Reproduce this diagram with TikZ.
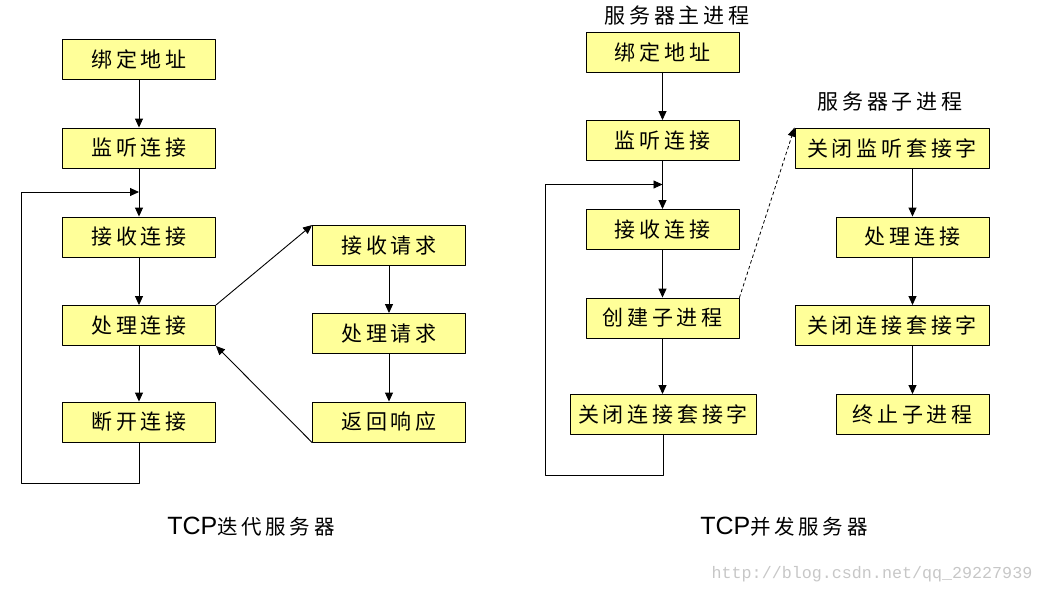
\documentclass[tikz,border=0pt]{standalone}
\usepackage{fontspec}
\setmainfont{Liberation Sans}
\newfontfamily\cjk[LetterSpace=18]{Noto Sans CJK SC}
\newfontfamily\wmfont{Liberation Mono}
\usetikzlibrary{arrows.meta}
\definecolor{boxyellow}{HTML}{FFFF99}
\tikzset{
  hop/.style={draw, fill=boxyellow, minimum height=40pt, inner sep=0pt, font=\fontsize{21}{21}\cjk},
  nhan/.style={font=\fontsize{21}{21}\cjk},
}
\begin{document}
\begin{tikzpicture}[x=1pt, y=-1pt, line join=round, line cap=round, line width=0.9pt, >={Triangle[length=9pt,width=8pt]}]
	% Khung hình
	\useasboundingbox (0,0) rectangle (1044,594);
	% Máy chủ lặp
	\foreach \n/\y/\t in {a1/59.5/绑定地址, a2/148/监听连接, a3/237/接收连接, a4/325.5/处理连接, a5/422/断开连接}
	\node[hop, minimum width=153pt] (\n) at (139,\y) {\t};
	\foreach \n/\y/\t in {r1/245.5/接收请求, r2/333.5/处理请求, r3/422/返回响应}
	\node[hop, minimum width=153pt] (\n) at (389,\y) {\t};
	% Máy chủ đồng thời
	\node[nhan] (tmain) at (677,16) {服务器主进程};
	\foreach \n/\y/\t in {m1/52/绑定地址, m2/140.5/监听连接, m3/229.5/接收连接, m4/318/创建子进程}
	\node[hop, minimum width=153pt] (\n) at (662.5,\y) {\t};
	\node[hop, minimum width=186pt] (m5) at (663,414.5) {关闭连接套接字};
	\node[nhan] (tchild) at (890,102) {服务器子进程};
	\node[hop, minimum width=194pt] (c1) at (892,148) {关闭监听套接字};
	\node[hop, minimum width=153pt] (c2) at (912.5,237) {处理连接};
	\node[hop, minimum width=194pt] (c3) at (892,325.5) {关闭连接套接字};
	\node[hop, minimum width=153pt] (c4) at (912.5,414.5) {终止子进程};
	% Mũi tên dọc
	\foreach \a/\b/\c in {a1/a2/a1, a2/a3/a2, a3/a4/a3, a4/a5/a4, r1/r2/r1, r2/r3/r2, m1/m2/m1, m2/m3/m2, m3/m4/m3, m4/m5/m4, c1/c2/c2, c2/c3/c2, c3/c4/c2}
	\draw[->] (\a.south -| \c) -- (\b.north -| \c);
	% Vòng lặp
	\coordinate (j1) at (139,192);
	\coordinate (l1) at (21,483);
	\coordinate (j2) at (662.5,184.5);
	\coordinate (l2) at (545,475);
	\draw[->] (a5.south) |- (l1) |- (j1);
	\draw[->] (m5.south) |- (l2) |- (j2);
	% Mũi tên chéo
	\draw[->] (a4.north east) -- (r1.north west);
	\draw[->] (r3.south west) -- (a4.south east);
	\draw[->, dashed, line width=0.8pt] (m4.north east) -- (c1.north west);
	% Chú thích
	\node (cap1) at (251,527) {\fontsize{25}{25}\selectfont TCP\fontsize{20.5}{20.5}\cjk 迭代服务器};
	\node (cap2) at (784,527) {\fontsize{25}{25}\selectfont TCP\fontsize{20.5}{20.5}\cjk 并发服务器};
	\node[text=black!22, font=\fontsize{16.7}{16.7}\wmfont] (wm) at (872,574) {http://blog.csdn.net/qq\_29227939};
\end{tikzpicture}
\end{document}
